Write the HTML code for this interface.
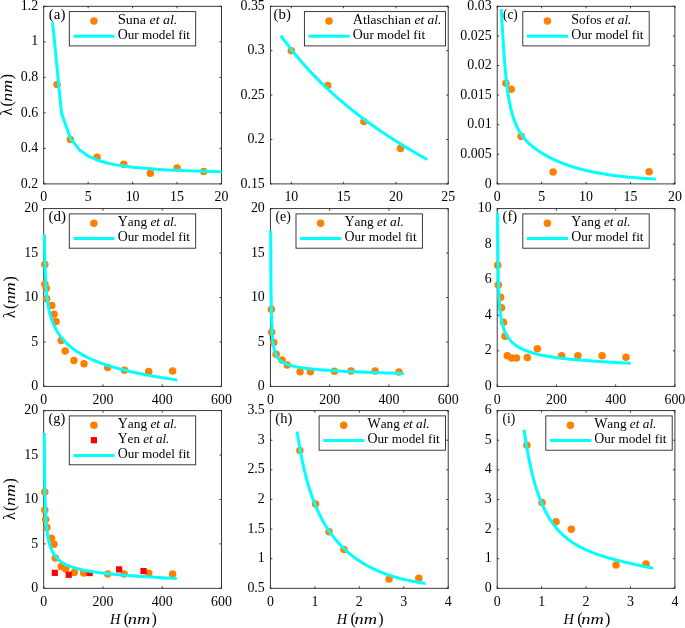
<!DOCTYPE html>
<html><head><meta charset="utf-8"><title>Figure</title>
<style>
html,body{margin:0;padding:0;background:#fff;}
svg{display:block;}
text{font-family:"Liberation Serif", serif;fill:#000;}
.tk{font-size:14.4px;}
.lg{font-size:13.0px;}
.cap{font-size:13.7px;}
.al{font-size:16px;}
.pl{font-size:15px;}
</style></head><body>
<svg width="685" height="628" viewBox="0 0 685 628">
<defs><filter id="soft" x="0" y="0" width="100%" height="100%" color-interpolation-filters="sRGB"><feGaussianBlur stdDeviation="0.4"/></filter></defs>
<g filter="url(#soft)">
<rect width="685" height="628" fill="#fff"/>
<rect x="43.7" y="6.3" width="177.80" height="177.60" fill="none" stroke="#262626" stroke-width="0.9"/>
<path d="M43.70,183.90v-2M43.70,6.30v2M88.15,183.90v-2M88.15,6.30v2M132.60,183.90v-2M132.60,6.30v2M177.05,183.90v-2M177.05,6.30v2M221.50,183.90v-2M221.50,6.30v2M43.70,183.90h2M221.50,183.90h-2M43.70,148.38h2M221.50,148.38h-2M43.70,112.86h2M221.50,112.86h-2M43.70,77.34h2M221.50,77.34h-2M43.70,41.82h2M221.50,41.82h-2M43.70,6.30h2M221.50,6.30h-2" stroke="#262626" stroke-width="0.9" fill="none"/>
<g>
<circle cx="57.04" cy="84.44" r="3.75" fill="#ff8000"/>
<circle cx="70.37" cy="139.50" r="3.75" fill="#ff8000"/>
<circle cx="97.04" cy="157.26" r="3.75" fill="#ff8000"/>
<circle cx="123.71" cy="164.36" r="3.75" fill="#ff8000"/>
<circle cx="150.38" cy="173.24" r="3.75" fill="#ff8000"/>
<circle cx="177.05" cy="167.92" r="3.75" fill="#ff8000"/>
<circle cx="203.72" cy="171.47" r="3.75" fill="#ff8000"/>
<path d="M52.59,22.28 L61.48,112.88 L70.37,138.27 L79.26,149.68 L88.15,156.02 L97.04,159.99 L105.93,162.69 L114.82,164.62 L123.71,166.07 L132.60,167.20 L141.49,168.09 L150.38,168.81 L159.27,169.41 L168.16,169.91 L177.05,170.33 L185.94,170.69 L194.83,171.01 L203.72,171.28 L212.61,171.52 L221.50,171.74" fill="none" stroke="#00ffff" stroke-width="3" stroke-linejoin="round"/>
</g>
<text transform="translate(38.10,187.55) scale(0.965,1)" text-anchor="end" class="tk">0.2</text>
<text transform="translate(38.10,152.03) scale(0.965,1)" text-anchor="end" class="tk">0.4</text>
<text transform="translate(38.10,116.51) scale(0.965,1)" text-anchor="end" class="tk">0.6</text>
<text transform="translate(38.10,80.99) scale(0.965,1)" text-anchor="end" class="tk">0.8</text>
<text transform="translate(38.10,45.47) scale(0.965,1)" text-anchor="end" class="tk">1</text>
<text transform="translate(38.10,9.95) scale(0.965,1)" text-anchor="end" class="tk">1.2</text>
<text transform="translate(43.70,201.20) scale(0.965,1)" text-anchor="middle" class="tk">0</text>
<text transform="translate(88.15,201.20) scale(0.965,1)" text-anchor="middle" class="tk">5</text>
<text transform="translate(132.60,201.20) scale(0.965,1)" text-anchor="middle" class="tk">10</text>
<text transform="translate(177.05,201.20) scale(0.965,1)" text-anchor="middle" class="tk">15</text>
<text transform="translate(221.50,201.20) scale(0.965,1)" text-anchor="middle" class="tk">20</text>
<text x="48.85" y="18.55" class="pl" textLength="16.55" lengthAdjust="spacingAndGlyphs">(a)</text>
<rect x="69.30" y="11.60" width="126.40" height="34.30" fill="#fff" stroke="#262626" stroke-width="0.9"/>
<circle cx="93.90" cy="20.90" r="3.75" fill="#ff8000"/>
<text x="117.70" y="24.00" class="lg" textLength="59.6" lengthAdjust="spacingAndGlyphs"><tspan class="cap">S</tspan>una <tspan font-style="italic">et al.</tspan></text>
<path d="M73.40,36.20h41.2" stroke="#00ffff" stroke-width="3"/>
<text x="117.70" y="39.00" class="lg" textLength="72.3" lengthAdjust="spacingAndGlyphs"><tspan class="cap">O</tspan>ur model fit</text>
<text transform="translate(11.6,115.73) rotate(-90)" style="font-size:16px">λ</text>
<text transform="translate(11.6,106.60) rotate(-90)" style="font-size:16px">(</text>
<text transform="translate(11.6,101.67) rotate(-90)" style="font-size:15.4px;font-style:italic" textLength="21.85" lengthAdjust="spacingAndGlyphs">nm</text>
<text transform="translate(11.6,79.15) rotate(-90)" style="font-size:16px">)</text>
<rect x="270.4" y="6.3" width="177.80" height="177.60" fill="none" stroke="#262626" stroke-width="0.9"/>
<path d="M291.32,183.90v-2M291.32,6.30v2M343.61,183.90v-2M343.61,6.30v2M395.91,183.90v-2M395.91,6.30v2M448.20,183.90v-2M448.20,6.30v2M270.40,183.90h2M448.20,183.90h-2M270.40,139.50h2M448.20,139.50h-2M270.40,95.10h2M448.20,95.10h-2M270.40,50.70h2M448.20,50.70h-2M270.40,6.30h2M448.20,6.30h-2" stroke="#262626" stroke-width="0.9" fill="none"/>
<g>
<circle cx="291.32" cy="50.70" r="3.75" fill="#ff8000"/>
<circle cx="327.61" cy="85.60" r="3.75" fill="#ff8000"/>
<circle cx="363.90" cy="121.56" r="3.75" fill="#ff8000"/>
<circle cx="400.51" cy="148.38" r="3.75" fill="#ff8000"/>
<path d="M280.86,35.60 L283.34,39.04 L285.82,42.39 L288.30,45.66 L290.79,48.84 L293.27,51.96 L295.75,55.00 L298.23,57.97 L300.71,60.88 L303.19,63.72 L305.68,66.50 L308.16,69.23 L310.64,71.90 L313.12,74.52 L315.60,77.09 L318.09,79.61 L320.57,82.08 L323.05,84.50 L325.53,86.89 L328.01,89.23 L330.49,91.53 L332.98,93.79 L335.46,96.01 L337.94,98.19 L340.42,100.34 L342.90,102.46 L345.38,104.54 L347.87,106.59 L350.35,108.61 L352.83,110.60 L355.31,112.55 L357.79,114.48 L360.27,116.39 L362.76,118.26 L365.24,120.11 L367.72,121.93 L370.20,123.73 L372.68,125.50 L375.17,127.26 L377.65,128.98 L380.13,130.69 L382.61,132.37 L385.09,134.03 L387.57,135.68 L390.06,137.30 L392.54,138.90 L395.02,140.48 L397.50,142.05 L399.98,143.59 L402.46,145.12 L404.95,146.63 L407.43,148.12 L409.91,149.60 L412.39,151.06 L414.87,152.50 L417.36,153.93 L419.84,155.35 L422.32,156.75 L424.80,158.13 L427.28,159.50" fill="none" stroke="#00ffff" stroke-width="3" stroke-linejoin="round"/>
</g>
<text transform="translate(264.80,187.55) scale(0.965,1)" text-anchor="end" class="tk">0.15</text>
<text transform="translate(264.80,143.15) scale(0.965,1)" text-anchor="end" class="tk">0.2</text>
<text transform="translate(264.80,98.75) scale(0.965,1)" text-anchor="end" class="tk">0.25</text>
<text transform="translate(264.80,54.35) scale(0.965,1)" text-anchor="end" class="tk">0.3</text>
<text transform="translate(264.80,9.95) scale(0.965,1)" text-anchor="end" class="tk">0.35</text>
<text transform="translate(291.32,201.20) scale(0.965,1)" text-anchor="middle" class="tk">10</text>
<text transform="translate(343.61,201.20) scale(0.965,1)" text-anchor="middle" class="tk">15</text>
<text transform="translate(395.91,201.20) scale(0.965,1)" text-anchor="middle" class="tk">20</text>
<text transform="translate(448.20,201.20) scale(0.965,1)" text-anchor="middle" class="tk">25</text>
<text x="273.56" y="18.55" class="pl" textLength="17.28" lengthAdjust="spacingAndGlyphs">(b)</text>
<rect x="304.40" y="11.60" width="141.10" height="34.30" fill="#fff" stroke="#262626" stroke-width="0.9"/>
<circle cx="329.00" cy="20.90" r="3.75" fill="#ff8000"/>
<text x="352.80" y="24.00" class="lg" textLength="88.6" lengthAdjust="spacingAndGlyphs"><tspan class="cap">A</tspan>tlaschian <tspan font-style="italic">et al.</tspan></text>
<path d="M308.50,36.20h41.2" stroke="#00ffff" stroke-width="3"/>
<text x="352.80" y="39.00" class="lg" textLength="72.3" lengthAdjust="spacingAndGlyphs"><tspan class="cap">O</tspan>ur model fit</text>
<rect x="497.2" y="6.3" width="177.70" height="177.60" fill="none" stroke="#262626" stroke-width="0.9"/>
<path d="M497.20,183.90v-2M497.20,6.30v2M541.62,183.90v-2M541.62,6.30v2M586.05,183.90v-2M586.05,6.30v2M630.47,183.90v-2M630.47,6.30v2M674.90,183.90v-2M674.90,6.30v2M497.20,183.90h2M674.90,183.90h-2M497.20,154.30h2M674.90,154.30h-2M497.20,124.70h2M674.90,124.70h-2M497.20,95.10h2M674.90,95.10h-2M497.20,65.50h2M674.90,65.50h-2M497.20,35.90h2M674.90,35.90h-2M497.20,6.30h2M674.90,6.30h-2" stroke="#262626" stroke-width="0.9" fill="none"/>
<g>
<circle cx="505.91" cy="83.26" r="3.75" fill="#ff8000"/>
<circle cx="511.24" cy="89.18" r="3.75" fill="#ff8000"/>
<circle cx="521.10" cy="136.18" r="3.75" fill="#ff8000"/>
<circle cx="553.09" cy="172.00" r="3.75" fill="#ff8000"/>
<circle cx="649.13" cy="171.82" r="3.75" fill="#ff8000"/>
<path d="M501.20,9.23 L501.26,10.06 L501.32,10.93 L501.39,11.85 L501.45,12.80 L501.52,13.80 L501.59,14.84 L501.65,15.91 L501.72,17.02 L501.79,18.16 L501.86,19.34 L501.94,20.55 L502.01,21.78 L502.08,23.05 L502.16,24.34 L502.24,25.66 L502.32,27.00 L502.39,28.36 L502.48,29.74 L502.56,31.14 L502.64,32.56 L502.73,34.00 L502.81,35.45 L502.90,36.91 L502.99,38.39 L503.08,39.87 L503.17,41.37 L503.26,42.87 L503.35,44.38 L503.45,45.89 L503.55,47.40 L503.65,48.92 L503.75,50.43 L503.85,51.95 L503.95,53.46 L504.05,54.96 L504.16,56.46 L504.27,57.95 L504.38,59.44 L504.49,60.91 L504.60,62.37 L504.72,63.81 L504.83,65.24 L504.95,66.66 L505.07,68.06 L505.20,69.45 L505.32,70.82 L505.45,72.18 L505.57,73.53 L505.70,74.86 L505.84,76.17 L505.97,77.47 L506.11,78.76 L506.24,80.03 L506.38,81.29 L506.53,82.53 L506.67,83.76 L506.82,84.97 L506.97,86.17 L507.12,87.36 L507.27,88.53 L507.43,89.69 L507.59,90.83 L507.75,91.96 L507.91,93.07 L508.08,94.17 L508.25,95.26 L508.42,96.33 L508.60,97.39 L508.77,98.43 L508.95,99.46 L509.13,100.47 L509.32,101.47 L509.51,102.46 L509.70,103.43 L509.89,104.39 L510.09,105.33 L510.29,106.26 L510.49,107.18 L510.70,108.09 L510.91,108.98 L511.12,109.86 L511.34,110.73 L511.56,111.59 L511.78,112.43 L512.01,113.27 L512.24,114.09 L512.47,114.90 L512.71,115.69 L512.95,116.48 L513.19,117.26 L513.44,118.02 L513.69,118.78 L513.95,119.52 L514.21,120.25 L514.47,120.98 L514.74,121.69 L515.01,122.39 L515.29,123.09 L515.57,123.77 L515.85,124.45 L516.14,125.11 L516.44,125.77 L516.74,126.42 L517.04,127.06 L517.35,127.69 L517.66,128.32 L517.98,128.93 L518.30,129.54 L518.63,130.14 L518.96,130.73 L519.30,131.31 L519.64,131.89 L519.99,132.46 L520.34,133.03 L520.70,133.58 L521.07,134.13 L521.44,134.68 L521.81,135.22 L522.20,135.75 L522.58,136.27 L522.98,136.79 L523.38,137.31 L523.78,137.82 L524.20,138.32 L524.62,138.82 L525.04,139.32 L525.47,139.81 L525.91,140.29 L526.36,140.77 L526.81,141.25 L527.27,141.73 L527.74,142.19 L528.21,142.66 L528.69,143.12 L529.18,143.58 L529.68,144.04 L530.18,144.49 L530.69,144.94 L531.21,145.39 L531.74,145.84 L532.28,146.28 L532.82,146.72 L533.37,147.16 L533.94,147.60 L534.51,148.03 L535.08,148.47 L535.67,148.90 L536.27,149.33 L536.88,149.77 L537.49,150.20 L538.12,150.63 L538.75,151.06 L539.40,151.49 L540.05,151.92 L540.72,152.34 L541.39,152.77 L542.08,153.20 L542.78,153.63 L543.48,154.05 L544.20,154.48 L544.93,154.90 L545.67,155.33 L546.42,155.75 L547.19,156.17 L547.96,156.59 L548.75,157.01 L549.55,157.43 L550.36,157.84 L551.19,158.26 L552.03,158.67 L552.88,159.08 L553.74,159.49 L554.62,159.90 L555.51,160.30 L556.42,160.71 L557.34,161.11 L558.27,161.51 L559.22,161.91 L560.18,162.30 L561.16,162.70 L562.15,163.09 L563.16,163.47 L564.18,163.86 L565.22,164.24 L566.28,164.62 L567.35,165.00 L568.44,165.38 L569.54,165.75 L570.67,166.12 L571.81,166.48 L572.96,166.84 L574.14,167.20 L575.33,167.56 L576.55,167.91 L577.78,168.26 L579.03,168.61 L580.30,168.95 L581.59,169.29 L582.90,169.62 L584.23,169.95 L585.58,170.28 L586.95,170.60 L588.35,170.92 L589.76,171.24 L591.20,171.55 L592.66,171.85 L594.14,172.15 L595.64,172.45 L597.17,172.75 L598.72,173.03 L600.30,173.32 L601.90,173.60 L603.52,173.87 L605.17,174.14 L606.85,174.41 L608.55,174.67 L610.28,174.92 L612.03,175.17 L613.82,175.41 L615.63,175.65 L617.46,175.89 L619.33,176.12 L621.23,176.34 L623.15,176.56 L625.11,176.77 L627.09,176.97 L629.11,177.17 L631.16,177.37 L633.23,177.55 L635.35,177.74 L637.49,177.91 L639.67,178.08 L641.88,178.25 L644.12,178.40 L646.40,178.55 L648.72,178.70 L651.07,178.83 L653.46,178.97 L655.89,179.09" fill="none" stroke="#00ffff" stroke-width="3" stroke-linejoin="round"/>
</g>
<text transform="translate(491.60,187.55) scale(0.965,1)" text-anchor="end" class="tk">0</text>
<text transform="translate(491.60,157.95) scale(0.965,1)" text-anchor="end" class="tk">0.005</text>
<text transform="translate(491.60,128.35) scale(0.965,1)" text-anchor="end" class="tk">0.01</text>
<text transform="translate(491.60,98.75) scale(0.965,1)" text-anchor="end" class="tk">0.015</text>
<text transform="translate(491.60,69.15) scale(0.965,1)" text-anchor="end" class="tk">0.02</text>
<text transform="translate(491.60,39.55) scale(0.965,1)" text-anchor="end" class="tk">0.025</text>
<text transform="translate(491.60,9.95) scale(0.965,1)" text-anchor="end" class="tk">0.03</text>
<text transform="translate(497.20,201.20) scale(0.965,1)" text-anchor="middle" class="tk">0</text>
<text transform="translate(541.62,201.20) scale(0.965,1)" text-anchor="middle" class="tk">5</text>
<text transform="translate(586.05,201.20) scale(0.965,1)" text-anchor="middle" class="tk">10</text>
<text transform="translate(630.47,201.20) scale(0.965,1)" text-anchor="middle" class="tk">15</text>
<text transform="translate(674.90,201.20) scale(0.965,1)" text-anchor="middle" class="tk">20</text>
<text x="503.07" y="18.55" class="pl" textLength="14.65" lengthAdjust="spacingAndGlyphs">(c)</text>
<rect x="522.80" y="11.60" width="126.40" height="34.30" fill="#fff" stroke="#262626" stroke-width="0.9"/>
<circle cx="547.40" cy="20.90" r="3.75" fill="#ff8000"/>
<text x="571.20" y="24.00" class="lg" textLength="60.2" lengthAdjust="spacingAndGlyphs"><tspan class="cap">S</tspan>ofos <tspan font-style="italic">et al.</tspan></text>
<path d="M526.90,36.20h41.2" stroke="#00ffff" stroke-width="3"/>
<text x="571.20" y="39.00" class="lg" textLength="72.3" lengthAdjust="spacingAndGlyphs"><tspan class="cap">O</tspan>ur model fit</text>
<rect x="43.7" y="208.6" width="177.80" height="177.80" fill="none" stroke="#262626" stroke-width="0.9"/>
<path d="M43.70,386.40v-2M43.70,208.60v2M102.97,386.40v-2M102.97,208.60v2M162.23,386.40v-2M162.23,208.60v2M221.50,386.40v-2M221.50,208.60v2M43.70,386.40h2M221.50,386.40h-2M43.70,341.95h2M221.50,341.95h-2M43.70,297.50h2M221.50,297.50h-2M43.70,253.05h2M221.50,253.05h-2M43.70,208.60h2M221.50,208.60h-2" stroke="#262626" stroke-width="0.9" fill="none"/>
<g>
<circle cx="44.89" cy="264.61" r="3.75" fill="#ff8000"/>
<circle cx="44.89" cy="284.16" r="3.75" fill="#ff8000"/>
<circle cx="46.25" cy="288.61" r="3.75" fill="#ff8000"/>
<circle cx="46.69" cy="298.66" r="3.75" fill="#ff8000"/>
<circle cx="51.82" cy="305.41" r="3.75" fill="#ff8000"/>
<circle cx="54.07" cy="314.30" r="3.75" fill="#ff8000"/>
<circle cx="56.09" cy="321.41" r="3.75" fill="#ff8000"/>
<circle cx="61.18" cy="340.44" r="3.75" fill="#ff8000"/>
<circle cx="65.21" cy="351.11" r="3.75" fill="#ff8000"/>
<circle cx="73.93" cy="360.53" r="3.75" fill="#ff8000"/>
<circle cx="84.00" cy="363.73" r="3.75" fill="#ff8000"/>
<circle cx="107.71" cy="367.55" r="3.75" fill="#ff8000"/>
<circle cx="124.45" cy="370.22" r="3.75" fill="#ff8000"/>
<circle cx="148.72" cy="371.55" r="3.75" fill="#ff8000"/>
<circle cx="172.61" cy="371.11" r="3.75" fill="#ff8000"/>
<path d="M44.44,234.60 L44.46,235.98 L44.47,237.34 L44.49,238.68 L44.51,240.01 L44.53,241.32 L44.54,242.61 L44.56,243.88 L44.58,245.14 L44.60,246.39 L44.62,247.61 L44.64,248.82 L44.66,250.02 L44.68,251.20 L44.70,252.36 L44.73,253.51 L44.75,254.65 L44.77,255.77 L44.80,256.87 L44.82,257.96 L44.84,259.04 L44.87,260.10 L44.89,261.15 L44.92,262.18 L44.95,263.21 L44.98,264.21 L45.00,265.21 L45.03,266.19 L45.06,267.16 L45.09,268.12 L45.12,269.06 L45.15,269.99 L45.18,270.91 L45.22,271.82 L45.25,272.71 L45.28,273.60 L45.32,274.47 L45.36,275.33 L45.39,276.18 L45.43,277.02 L45.47,277.85 L45.51,278.67 L45.55,279.48 L45.59,280.27 L45.63,281.06 L45.67,281.84 L45.71,282.61 L45.76,283.37 L45.80,284.12 L45.85,284.86 L45.90,285.59 L45.94,286.31 L45.99,287.03 L46.04,287.73 L46.10,288.43 L46.15,289.12 L46.20,289.81 L46.26,290.48 L46.31,291.15 L46.37,291.81 L46.43,292.46 L46.49,293.10 L46.55,293.74 L46.61,294.38 L46.68,295.00 L46.74,295.62 L46.81,296.24 L46.88,296.84 L46.95,297.45 L47.02,298.04 L47.09,298.63 L47.17,299.22 L47.24,299.80 L47.32,300.38 L47.40,300.95 L47.48,301.52 L47.56,302.08 L47.65,302.64 L47.73,303.19 L47.82,303.74 L47.91,304.29 L48.01,304.84 L48.10,305.38 L48.20,305.91 L48.30,306.45 L48.40,306.98 L48.50,307.51 L48.61,308.04 L48.71,308.57 L48.82,309.09 L48.94,309.61 L49.05,310.13 L49.17,310.65 L49.29,311.17 L49.41,311.68 L49.54,312.20 L49.67,312.71 L49.80,313.23 L49.93,313.74 L50.07,314.25 L50.21,314.77 L50.35,315.28 L50.50,315.79 L50.65,316.30 L50.80,316.80 L50.95,317.31 L51.11,317.82 L51.28,318.32 L51.44,318.83 L51.61,319.33 L51.79,319.84 L51.96,320.34 L52.15,320.84 L52.33,321.35 L52.52,321.85 L52.72,322.35 L52.91,322.85 L53.12,323.35 L53.32,323.85 L53.53,324.34 L53.75,324.84 L53.97,325.34 L54.20,325.83 L54.43,326.33 L54.66,326.82 L54.90,327.32 L55.15,327.81 L55.40,328.30 L55.66,328.80 L55.92,329.29 L56.19,329.78 L56.46,330.27 L56.74,330.76 L57.03,331.25 L57.32,331.74 L57.62,332.23 L57.93,332.72 L58.24,333.20 L58.56,333.69 L58.89,334.18 L59.22,334.66 L59.56,335.15 L59.91,335.63 L60.27,336.12 L60.63,336.60 L61.00,337.09 L61.38,337.57 L61.77,338.05 L62.17,338.53 L62.57,339.02 L62.99,339.50 L63.41,339.98 L63.84,340.46 L64.29,340.94 L64.74,341.42 L65.20,341.90 L65.67,342.38 L66.16,342.86 L66.65,343.34 L67.15,343.81 L67.67,344.29 L68.20,344.77 L68.73,345.25 L69.28,345.72 L69.85,346.20 L70.42,346.68 L71.01,347.15 L71.61,347.63 L72.22,348.11 L72.85,348.58 L73.49,349.05 L74.14,349.53 L74.81,350.00 L75.49,350.48 L76.19,350.95 L76.91,351.42 L77.64,351.89 L78.38,352.36 L79.14,352.84 L79.92,353.31 L80.72,353.78 L81.53,354.24 L82.36,354.71 L83.21,355.18 L84.08,355.65 L84.97,356.12 L85.87,356.58 L86.80,357.05 L87.74,357.51 L88.71,357.98 L89.70,358.44 L90.71,358.90 L91.74,359.36 L92.80,359.83 L93.88,360.29 L94.98,360.75 L96.11,361.20 L97.26,361.66 L98.44,362.12 L99.64,362.58 L100.87,363.03 L102.12,363.48 L103.41,363.94 L104.72,364.39 L106.06,364.84 L107.43,365.29 L108.83,365.74 L110.26,366.19 L111.72,366.64 L113.21,367.09 L114.74,367.53 L116.30,367.98 L117.90,368.42 L119.53,368.86 L121.19,369.30 L122.89,369.74 L124.63,370.18 L126.41,370.62 L128.23,371.06 L130.09,371.49 L131.98,371.93 L133.92,372.36 L135.91,372.79 L137.93,373.22 L140.00,373.65 L142.12,374.08 L144.28,374.51 L146.49,374.93 L148.75,375.36 L151.05,375.78 L153.41,376.20 L155.82,376.62 L158.28,377.04 L160.80,377.45 L163.37,377.87 L166.00,378.28 L168.69,378.70 L171.44,379.11 L174.24,379.52 L177.11,379.93" fill="none" stroke="#00ffff" stroke-width="3" stroke-linejoin="round"/>
</g>
<text transform="translate(38.10,390.05) scale(0.965,1)" text-anchor="end" class="tk">0</text>
<text transform="translate(38.10,345.60) scale(0.965,1)" text-anchor="end" class="tk">5</text>
<text transform="translate(38.10,301.15) scale(0.965,1)" text-anchor="end" class="tk">10</text>
<text transform="translate(38.10,256.70) scale(0.965,1)" text-anchor="end" class="tk">15</text>
<text transform="translate(38.10,212.25) scale(0.965,1)" text-anchor="end" class="tk">20</text>
<text transform="translate(43.70,403.70) scale(0.965,1)" text-anchor="middle" class="tk">0</text>
<text transform="translate(102.97,403.70) scale(0.965,1)" text-anchor="middle" class="tk">200</text>
<text transform="translate(162.23,403.70) scale(0.965,1)" text-anchor="middle" class="tk">400</text>
<text transform="translate(221.50,403.70) scale(0.965,1)" text-anchor="middle" class="tk">600</text>
<text x="48.55" y="220.85" class="pl" textLength="17.49" lengthAdjust="spacingAndGlyphs">(d)</text>
<rect x="69.30" y="213.90" width="126.40" height="34.30" fill="#fff" stroke="#262626" stroke-width="0.9"/>
<circle cx="93.90" cy="223.20" r="3.75" fill="#ff8000"/>
<text x="117.70" y="226.30" class="lg" textLength="59.4" lengthAdjust="spacingAndGlyphs"><tspan class="cap">Y</tspan>ang <tspan font-style="italic">et al.</tspan></text>
<path d="M73.40,238.50h41.2" stroke="#00ffff" stroke-width="3"/>
<text x="117.70" y="241.30" class="lg" textLength="72.3" lengthAdjust="spacingAndGlyphs"><tspan class="cap">O</tspan>ur model fit</text>
<text transform="translate(15.0,318.13) rotate(-90)" style="font-size:16px">λ</text>
<text transform="translate(15.0,309.00) rotate(-90)" style="font-size:16px">(</text>
<text transform="translate(15.0,304.07) rotate(-90)" style="font-size:15.4px;font-style:italic" textLength="21.85" lengthAdjust="spacingAndGlyphs">nm</text>
<text transform="translate(15.0,281.55) rotate(-90)" style="font-size:16px">)</text>
<rect x="270.4" y="208.6" width="177.80" height="177.80" fill="none" stroke="#262626" stroke-width="0.9"/>
<path d="M270.40,386.40v-2M270.40,208.60v2M329.67,386.40v-2M329.67,208.60v2M388.93,386.40v-2M388.93,208.60v2M448.20,386.40v-2M448.20,208.60v2M270.40,386.40h2M448.20,386.40h-2M270.40,341.95h2M448.20,341.95h-2M270.40,297.50h2M448.20,297.50h-2M270.40,253.05h2M448.20,253.05h-2M270.40,208.60h2M448.20,208.60h-2" stroke="#262626" stroke-width="0.9" fill="none"/>
<g>
<circle cx="271.41" cy="309.15" r="3.75" fill="#ff8000"/>
<circle cx="271.70" cy="332.17" r="3.75" fill="#ff8000"/>
<circle cx="273.75" cy="342.57" r="3.75" fill="#ff8000"/>
<circle cx="276.15" cy="354.13" r="3.75" fill="#ff8000"/>
<circle cx="282.05" cy="360.09" r="3.75" fill="#ff8000"/>
<circle cx="287.29" cy="364.89" r="3.75" fill="#ff8000"/>
<circle cx="300.03" cy="371.64" r="3.75" fill="#ff8000"/>
<circle cx="310.40" cy="371.64" r="3.75" fill="#ff8000"/>
<circle cx="334.41" cy="371.20" r="3.75" fill="#ff8000"/>
<circle cx="351.00" cy="371.02" r="3.75" fill="#ff8000"/>
<circle cx="375.12" cy="371.02" r="3.75" fill="#ff8000"/>
<circle cx="399.01" cy="371.91" r="3.75" fill="#ff8000"/>
<path d="M270.70,230.89 L270.70,233.21 L270.71,235.50 L270.72,237.76 L270.73,239.98 L270.74,242.18 L270.75,244.35 L270.75,246.49 L270.76,248.60 L270.77,250.69 L270.78,252.74 L270.79,254.77 L270.80,256.76 L270.81,258.73 L270.82,260.68 L270.83,262.59 L270.85,264.48 L270.86,266.34 L270.87,268.17 L270.88,269.98 L270.89,271.76 L270.91,273.52 L270.92,275.25 L270.93,276.95 L270.95,278.63 L270.96,280.29 L270.98,281.91 L270.99,283.52 L271.01,285.10 L271.02,286.65 L271.04,288.19 L271.05,289.69 L271.07,291.18 L271.09,292.64 L271.11,294.08 L271.13,295.49 L271.14,296.88 L271.16,298.25 L271.18,299.60 L271.20,300.93 L271.22,302.23 L271.25,303.51 L271.27,304.78 L271.29,306.02 L271.31,307.24 L271.34,308.43 L271.36,309.61 L271.39,310.77 L271.41,311.91 L271.44,313.03 L271.46,314.13 L271.49,315.21 L271.52,316.27 L271.55,317.31 L271.58,318.34 L271.61,319.34 L271.64,320.33 L271.67,321.30 L271.71,322.25 L271.74,323.18 L271.77,324.10 L271.81,325.00 L271.85,325.88 L271.88,326.75 L271.92,327.60 L271.96,328.43 L272.00,329.25 L272.04,330.05 L272.09,330.84 L272.13,331.61 L272.17,332.37 L272.22,333.11 L272.27,333.84 L272.32,334.56 L272.36,335.25 L272.42,335.94 L272.47,336.61 L272.52,337.27 L272.58,337.92 L272.63,338.55 L272.69,339.17 L272.75,339.78 L272.81,340.37 L272.87,340.95 L272.94,341.53 L273.00,342.09 L273.07,342.63 L273.14,343.17 L273.21,343.70 L273.28,344.21 L273.36,344.72 L273.43,345.21 L273.51,345.70 L273.59,346.17 L273.68,346.64 L273.76,347.09 L273.85,347.54 L273.94,347.98 L274.03,348.41 L274.12,348.83 L274.22,349.24 L274.32,349.65 L274.42,350.04 L274.52,350.43 L274.63,350.82 L274.74,351.19 L274.85,351.56 L274.97,351.92 L275.09,352.28 L275.21,352.63 L275.33,352.97 L275.46,353.31 L275.59,353.64 L275.72,353.96 L275.86,354.29 L276.00,354.60 L276.15,354.91 L276.30,355.22 L276.45,355.52 L276.61,355.82 L276.77,356.12 L276.93,356.41 L277.10,356.69 L277.28,356.97 L277.45,357.25 L277.64,357.52 L277.82,357.79 L278.02,358.05 L278.21,358.31 L278.42,358.57 L278.62,358.82 L278.84,359.06 L279.05,359.31 L279.28,359.55 L279.51,359.78 L279.74,360.02 L279.99,360.24 L280.23,360.47 L280.49,360.69 L280.75,360.91 L281.02,361.12 L281.29,361.34 L281.58,361.54 L281.87,361.75 L282.16,361.95 L282.47,362.15 L282.78,362.34 L283.10,362.53 L283.43,362.72 L283.77,362.91 L284.11,363.09 L284.47,363.27 L284.83,363.45 L285.20,363.62 L285.59,363.80 L285.98,363.97 L286.38,364.13 L286.80,364.30 L287.22,364.46 L287.66,364.62 L288.11,364.77 L288.56,364.93 L289.03,365.08 L289.52,365.23 L290.01,365.38 L290.52,365.52 L291.04,365.67 L291.58,365.81 L292.12,365.95 L292.69,366.08 L293.26,366.22 L293.86,366.35 L294.46,366.49 L295.09,366.62 L295.72,366.75 L296.38,366.87 L297.05,367.00 L297.74,367.12 L298.45,367.24 L299.18,367.37 L299.92,367.49 L300.69,367.60 L301.47,367.72 L302.28,367.84 L303.10,367.95 L303.95,368.07 L304.82,368.18 L305.71,368.29 L306.62,368.40 L307.56,368.51 L308.52,368.62 L309.51,368.73 L310.52,368.84 L311.56,368.95 L312.63,369.05 L313.72,369.16 L314.84,369.26 L315.99,369.37 L317.17,369.47 L318.38,369.58 L319.63,369.68 L320.90,369.78 L322.21,369.89 L323.55,369.99 L324.93,370.09 L326.34,370.19 L327.79,370.29 L329.27,370.39 L330.80,370.49 L332.36,370.59 L333.97,370.69 L335.61,370.79 L337.30,370.89 L339.03,370.99 L340.81,371.09 L342.63,371.18 L344.50,371.28 L346.42,371.38 L348.39,371.48 L350.41,371.57 L352.48,371.67 L354.61,371.77 L356.79,371.87 L359.02,371.96 L361.32,372.06 L363.67,372.16 L366.09,372.25 L368.57,372.35 L371.11,372.44 L373.72,372.54 L376.39,372.64 L379.13,372.73 L381.95,372.83 L384.84,372.93 L387.80,373.02 L390.84,373.12 L393.96,373.22 L397.16,373.31 L400.44,373.41 L403.81,373.51" fill="none" stroke="#00ffff" stroke-width="3" stroke-linejoin="round"/>
</g>
<text transform="translate(264.80,390.05) scale(0.965,1)" text-anchor="end" class="tk">0</text>
<text transform="translate(264.80,345.60) scale(0.965,1)" text-anchor="end" class="tk">5</text>
<text transform="translate(264.80,301.15) scale(0.965,1)" text-anchor="end" class="tk">10</text>
<text transform="translate(264.80,256.70) scale(0.965,1)" text-anchor="end" class="tk">15</text>
<text transform="translate(264.80,212.25) scale(0.965,1)" text-anchor="end" class="tk">20</text>
<text transform="translate(270.40,403.70) scale(0.965,1)" text-anchor="middle" class="tk">0</text>
<text transform="translate(329.67,403.70) scale(0.965,1)" text-anchor="middle" class="tk">200</text>
<text transform="translate(388.93,403.70) scale(0.965,1)" text-anchor="middle" class="tk">400</text>
<text transform="translate(448.20,403.70) scale(0.965,1)" text-anchor="middle" class="tk">600</text>
<text x="275.40" y="220.85" class="pl" textLength="15.37" lengthAdjust="spacingAndGlyphs">(e)</text>
<rect x="296.00" y="213.90" width="126.40" height="34.30" fill="#fff" stroke="#262626" stroke-width="0.9"/>
<circle cx="320.60" cy="223.20" r="3.75" fill="#ff8000"/>
<text x="344.40" y="226.30" class="lg" textLength="59.4" lengthAdjust="spacingAndGlyphs"><tspan class="cap">Y</tspan>ang <tspan font-style="italic">et al.</tspan></text>
<path d="M300.10,238.50h41.2" stroke="#00ffff" stroke-width="3"/>
<text x="344.40" y="241.30" class="lg" textLength="72.3" lengthAdjust="spacingAndGlyphs"><tspan class="cap">O</tspan>ur model fit</text>
<rect x="497.2" y="208.6" width="177.70" height="177.80" fill="none" stroke="#262626" stroke-width="0.9"/>
<path d="M497.20,386.40v-2M497.20,208.60v2M556.43,386.40v-2M556.43,208.60v2M615.67,386.40v-2M615.67,208.60v2M674.90,386.40v-2M674.90,208.60v2M497.20,386.40h2M674.90,386.40h-2M497.20,350.84h2M674.90,350.84h-2M497.20,315.28h2M674.90,315.28h-2M497.20,279.72h2M674.90,279.72h-2M497.20,244.16h2M674.90,244.16h-2M497.20,208.60h2M674.90,208.60h-2" stroke="#262626" stroke-width="0.9" fill="none"/>
<g>
<circle cx="497.73" cy="265.32" r="3.75" fill="#ff8000"/>
<circle cx="498.30" cy="284.88" r="3.75" fill="#ff8000"/>
<circle cx="500.61" cy="297.32" r="3.75" fill="#ff8000"/>
<circle cx="501.52" cy="307.81" r="3.75" fill="#ff8000"/>
<circle cx="503.48" cy="322.21" r="3.75" fill="#ff8000"/>
<circle cx="504.99" cy="336.26" r="3.75" fill="#ff8000"/>
<circle cx="507.27" cy="355.64" r="3.75" fill="#ff8000"/>
<circle cx="511.68" cy="357.95" r="3.75" fill="#ff8000"/>
<circle cx="516.39" cy="357.95" r="3.75" fill="#ff8000"/>
<circle cx="527.29" cy="357.42" r="3.75" fill="#ff8000"/>
<circle cx="537.39" cy="348.71" r="3.75" fill="#ff8000"/>
<circle cx="561.62" cy="355.64" r="3.75" fill="#ff8000"/>
<circle cx="577.91" cy="355.82" r="3.75" fill="#ff8000"/>
<circle cx="602.10" cy="355.82" r="3.75" fill="#ff8000"/>
<circle cx="626.00" cy="357.24" r="3.75" fill="#ff8000"/>
<path d="M497.59,212.84 L497.59,214.48 L497.60,216.12 L497.61,217.75 L497.62,219.37 L497.64,220.98 L497.65,222.59 L497.66,224.19 L497.67,225.79 L497.68,227.37 L497.69,228.95 L497.70,230.52 L497.72,232.08 L497.73,233.63 L497.74,235.18 L497.76,236.71 L497.77,238.24 L497.78,239.76 L497.80,241.26 L497.81,242.76 L497.83,244.25 L497.84,245.73 L497.86,247.19 L497.88,248.65 L497.89,250.10 L497.91,251.53 L497.93,252.96 L497.95,254.37 L497.96,255.77 L497.98,257.16 L498.00,258.54 L498.02,259.91 L498.04,261.26 L498.06,262.60 L498.08,263.93 L498.11,265.24 L498.13,266.54 L498.15,267.83 L498.18,269.11 L498.20,270.37 L498.22,271.62 L498.25,272.85 L498.28,274.07 L498.30,275.27 L498.33,276.46 L498.36,277.63 L498.39,278.79 L498.42,279.94 L498.45,281.06 L498.48,282.17 L498.51,283.27 L498.54,284.35 L498.57,285.41 L498.61,286.46 L498.64,287.49 L498.68,288.51 L498.72,289.51 L498.75,290.50 L498.79,291.47 L498.83,292.42 L498.87,293.36 L498.91,294.28 L498.96,295.20 L499.00,296.09 L499.04,296.97 L499.09,297.84 L499.14,298.69 L499.18,299.53 L499.23,300.36 L499.28,301.17 L499.34,301.97 L499.39,302.75 L499.44,303.53 L499.50,304.29 L499.56,305.04 L499.61,305.77 L499.67,306.50 L499.73,307.21 L499.80,307.91 L499.86,308.60 L499.93,309.28 L500.00,309.95 L500.06,310.61 L500.14,311.26 L500.21,311.90 L500.28,312.54 L500.36,313.16 L500.44,313.77 L500.52,314.37 L500.60,314.97 L500.68,315.56 L500.77,316.14 L500.86,316.71 L500.95,317.27 L501.04,317.83 L501.14,318.38 L501.23,318.92 L501.33,319.46 L501.44,319.99 L501.54,320.51 L501.65,321.03 L501.76,321.55 L501.87,322.06 L501.99,322.56 L502.11,323.06 L502.23,323.55 L502.35,324.04 L502.48,324.53 L502.61,325.01 L502.75,325.49 L502.88,325.96 L503.02,326.44 L503.17,326.91 L503.32,327.37 L503.47,327.83 L503.62,328.29 L503.78,328.75 L503.95,329.20 L504.11,329.65 L504.28,330.10 L504.46,330.55 L504.64,330.99 L504.82,331.43 L505.01,331.86 L505.21,332.29 L505.40,332.72 L505.61,333.15 L505.82,333.57 L506.03,333.99 L506.25,334.41 L506.47,334.82 L506.70,335.23 L506.94,335.64 L507.18,336.04 L507.43,336.44 L507.68,336.84 L507.94,337.24 L508.21,337.63 L508.48,338.02 L508.76,338.40 L509.04,338.79 L509.34,339.17 L509.64,339.55 L509.95,339.92 L510.26,340.29 L510.59,340.66 L510.92,341.02 L511.26,341.39 L511.60,341.75 L511.96,342.10 L512.33,342.46 L512.70,342.81 L513.09,343.15 L513.48,343.50 L513.88,343.84 L514.30,344.18 L514.72,344.51 L515.15,344.85 L515.60,345.18 L516.05,345.50 L516.52,345.83 L517.00,346.15 L517.49,346.47 L517.99,346.78 L518.51,347.09 L519.04,347.40 L519.58,347.71 L520.13,348.01 L520.70,348.31 L521.28,348.61 L521.88,348.91 L522.49,349.20 L523.12,349.49 L523.76,349.78 L524.42,350.06 L525.09,350.34 L525.78,350.62 L526.49,350.89 L527.22,351.16 L527.96,351.43 L528.72,351.70 L529.50,351.96 L530.30,352.22 L531.12,352.48 L531.96,352.74 L532.83,352.99 L533.71,353.24 L534.61,353.49 L535.54,353.73 L536.49,353.97 L537.46,354.21 L538.46,354.45 L539.48,354.68 L540.53,354.91 L541.60,355.14 L542.70,355.36 L543.83,355.58 L544.99,355.80 L546.17,356.02 L547.38,356.23 L548.63,356.44 L549.90,356.65 L551.21,356.85 L552.55,357.06 L553.92,357.26 L555.32,357.45 L556.76,357.65 L558.24,357.84 L559.75,358.03 L561.30,358.22 L562.89,358.41 L564.52,358.59 L566.18,358.78 L567.89,358.96 L569.64,359.14 L571.44,359.32 L573.28,359.49 L575.16,359.67 L577.09,359.84 L579.07,360.01 L581.10,360.18 L583.18,360.35 L585.31,360.52 L587.49,360.69 L589.73,360.85 L592.02,361.02 L594.37,361.18 L596.78,361.35 L599.25,361.51 L601.77,361.67 L604.37,361.83 L607.02,362.00 L609.74,362.16 L612.53,362.32 L615.39,362.48 L618.32,362.64 L621.32,362.80 L624.39,362.96 L627.54,363.12 L630.77,363.28" fill="none" stroke="#00ffff" stroke-width="3" stroke-linejoin="round"/>
</g>
<text transform="translate(491.60,390.05) scale(0.965,1)" text-anchor="end" class="tk">0</text>
<text transform="translate(491.60,354.49) scale(0.965,1)" text-anchor="end" class="tk">2</text>
<text transform="translate(491.60,318.93) scale(0.965,1)" text-anchor="end" class="tk">4</text>
<text transform="translate(491.60,283.37) scale(0.965,1)" text-anchor="end" class="tk">6</text>
<text transform="translate(491.60,247.81) scale(0.965,1)" text-anchor="end" class="tk">8</text>
<text transform="translate(491.60,212.25) scale(0.965,1)" text-anchor="end" class="tk">10</text>
<text transform="translate(497.20,403.70) scale(0.965,1)" text-anchor="middle" class="tk">0</text>
<text transform="translate(556.43,403.70) scale(0.965,1)" text-anchor="middle" class="tk">200</text>
<text transform="translate(615.67,403.70) scale(0.965,1)" text-anchor="middle" class="tk">400</text>
<text transform="translate(674.90,403.70) scale(0.965,1)" text-anchor="middle" class="tk">600</text>
<text x="502.57" y="220.85" class="pl" textLength="14.60" lengthAdjust="spacingAndGlyphs">(f)</text>
<rect x="522.80" y="213.90" width="126.40" height="34.30" fill="#fff" stroke="#262626" stroke-width="0.9"/>
<circle cx="547.40" cy="223.20" r="3.75" fill="#ff8000"/>
<text x="571.20" y="226.30" class="lg" textLength="59.4" lengthAdjust="spacingAndGlyphs"><tspan class="cap">Y</tspan>ang <tspan font-style="italic">et al.</tspan></text>
<path d="M526.90,238.50h41.2" stroke="#00ffff" stroke-width="3"/>
<text x="571.20" y="241.30" class="lg" textLength="72.3" lengthAdjust="spacingAndGlyphs"><tspan class="cap">O</tspan>ur model fit</text>
<rect x="43.7" y="410.6" width="177.80" height="177.70" fill="none" stroke="#262626" stroke-width="0.9"/>
<path d="M43.70,588.30v-2M43.70,410.60v2M102.97,588.30v-2M102.97,410.60v2M162.23,588.30v-2M162.23,410.60v2M221.50,588.30v-2M221.50,410.60v2M43.70,588.30h2M221.50,588.30h-2M43.70,543.88h2M221.50,543.88h-2M43.70,499.45h2M221.50,499.45h-2M43.70,455.02h2M221.50,455.02h-2M43.70,410.60h2M221.50,410.60h-2" stroke="#262626" stroke-width="0.9" fill="none"/>
<g>
<circle cx="44.80" cy="492.08" r="3.75" fill="#ff8000"/>
<circle cx="44.80" cy="509.93" r="3.75" fill="#ff8000"/>
<circle cx="45.69" cy="519.62" r="3.75" fill="#ff8000"/>
<circle cx="46.90" cy="527.62" r="3.75" fill="#ff8000"/>
<circle cx="51.40" cy="538.28" r="3.75" fill="#ff8000"/>
<circle cx="54.04" cy="544.14" r="3.75" fill="#ff8000"/>
<circle cx="55.26" cy="557.91" r="3.75" fill="#ff8000"/>
<circle cx="61.18" cy="566.44" r="3.75" fill="#ff8000"/>
<circle cx="65.63" cy="569.11" r="3.75" fill="#ff8000"/>
<circle cx="74.22" cy="572.57" r="3.75" fill="#ff8000"/>
<circle cx="83.71" cy="573.02" r="3.75" fill="#ff8000"/>
<circle cx="107.71" cy="573.91" r="3.75" fill="#ff8000"/>
<circle cx="124.21" cy="573.91" r="3.75" fill="#ff8000"/>
<circle cx="148.72" cy="573.28" r="3.75" fill="#ff8000"/>
<circle cx="172.61" cy="573.91" r="3.75" fill="#ff8000"/>
<rect x="51.71" y="569.74" width="6.2" height="6.2" fill="#ff0000"/>
<rect x="65.64" y="571.69" width="6.2" height="6.2" fill="#ff0000"/>
<rect x="86.53" y="569.92" width="6.2" height="6.2" fill="#ff0000"/>
<rect x="116.05" y="566.27" width="6.2" height="6.2" fill="#ff0000"/>
<rect x="140.46" y="567.96" width="6.2" height="6.2" fill="#ff0000"/>
<path d="M44.29,432.93 L44.31,435.27 L44.32,437.56 L44.33,439.82 L44.35,442.03 L44.36,444.22 L44.38,446.36 L44.39,448.47 L44.41,450.54 L44.43,452.58 L44.44,454.58 L44.46,456.55 L44.48,458.48 L44.50,460.38 L44.51,462.25 L44.53,464.08 L44.55,465.88 L44.57,467.65 L44.59,469.39 L44.61,471.10 L44.63,472.77 L44.65,474.42 L44.68,476.04 L44.70,477.62 L44.72,479.18 L44.74,480.71 L44.77,482.21 L44.79,483.68 L44.82,485.13 L44.84,486.55 L44.87,487.94 L44.90,489.30 L44.92,490.64 L44.95,491.96 L44.98,493.25 L45.01,494.51 L45.04,495.76 L45.07,496.98 L45.10,498.17 L45.13,499.34 L45.17,500.49 L45.20,501.62 L45.23,502.73 L45.27,503.82 L45.31,504.88 L45.34,505.93 L45.38,506.95 L45.42,507.96 L45.46,508.95 L45.50,509.92 L45.54,510.87 L45.58,511.80 L45.62,512.72 L45.67,513.62 L45.71,514.50 L45.76,515.37 L45.81,516.22 L45.86,517.06 L45.91,517.88 L45.96,518.69 L46.01,519.48 L46.06,520.26 L46.11,521.03 L46.17,521.79 L46.23,522.53 L46.28,523.26 L46.34,523.98 L46.40,524.69 L46.47,525.39 L46.53,526.08 L46.59,526.76 L46.66,527.43 L46.73,528.09 L46.80,528.75 L46.87,529.39 L46.94,530.03 L47.02,530.66 L47.09,531.28 L47.17,531.90 L47.25,532.51 L47.33,533.11 L47.41,533.70 L47.50,534.28 L47.59,534.86 L47.67,535.43 L47.77,536.00 L47.86,536.56 L47.95,537.11 L48.05,537.65 L48.15,538.19 L48.25,538.72 L48.36,539.25 L48.46,539.77 L48.57,540.28 L48.68,540.78 L48.80,541.29 L48.92,541.78 L49.04,542.27 L49.16,542.75 L49.28,543.23 L49.41,543.70 L49.54,544.17 L49.68,544.63 L49.81,545.09 L49.95,545.54 L50.10,545.98 L50.24,546.42 L50.39,546.86 L50.54,547.29 L50.70,547.72 L50.86,548.14 L51.03,548.56 L51.19,548.97 L51.37,549.38 L51.54,549.78 L51.72,550.18 L51.91,550.58 L52.09,550.97 L52.29,551.36 L52.48,551.74 L52.68,552.12 L52.89,552.50 L53.10,552.87 L53.32,553.24 L53.54,553.61 L53.76,553.97 L53.99,554.33 L54.23,554.68 L54.47,555.03 L54.71,555.38 L54.97,555.73 L55.23,556.07 L55.49,556.40 L55.76,556.74 L56.04,557.07 L56.32,557.39 L56.61,557.72 L56.90,558.04 L57.21,558.36 L57.52,558.67 L57.83,558.98 L58.16,559.29 L58.49,559.59 L58.83,559.89 L59.17,560.19 L59.53,560.48 L59.89,560.77 L60.26,561.06 L60.64,561.35 L61.03,561.63 L61.43,561.91 L61.83,562.19 L62.25,562.46 L62.67,562.73 L63.11,563.00 L63.55,563.26 L64.01,563.52 L64.47,563.78 L64.95,564.04 L65.43,564.29 L65.93,564.54 L66.44,564.79 L66.96,565.03 L67.50,565.28 L68.04,565.52 L68.60,565.75 L69.17,565.99 L69.75,566.22 L70.35,566.45 L70.96,566.68 L71.58,566.90 L72.22,567.12 L72.88,567.34 L73.55,567.56 L74.23,567.77 L74.93,567.98 L75.64,568.19 L76.38,568.40 L77.12,568.61 L77.89,568.81 L78.67,569.01 L79.48,569.21 L80.30,569.41 L81.13,569.60 L81.99,569.79 L82.87,569.98 L83.77,570.17 L84.68,570.36 L85.62,570.54 L86.58,570.72 L87.57,570.90 L88.57,571.08 L89.60,571.26 L90.65,571.43 L91.73,571.60 L92.83,571.77 L93.95,571.94 L95.10,572.11 L96.28,572.27 L97.49,572.44 L98.72,572.60 L99.98,572.76 L101.27,572.92 L102.59,573.08 L103.94,573.24 L105.32,573.39 L106.73,573.55 L108.17,573.70 L109.65,573.85 L111.16,574.00 L112.71,574.16 L114.29,574.31 L115.91,574.46 L117.56,574.61 L119.25,574.75 L120.99,574.90 L122.76,575.05 L124.57,575.20 L126.42,575.34 L128.32,575.49 L130.25,575.64 L132.24,575.79 L134.27,575.93 L136.34,576.08 L138.46,576.23 L140.64,576.38 L142.86,576.52 L145.13,576.67 L147.45,576.82 L149.83,576.97 L152.26,577.12 L154.75,577.27 L157.29,577.42 L159.90,577.58 L162.56,577.73 L165.28,577.88 L168.07,578.04 L170.92,578.20 L173.83,578.35 L176.81,578.51" fill="none" stroke="#00ffff" stroke-width="3" stroke-linejoin="round"/>
</g>
<text transform="translate(38.10,591.95) scale(0.965,1)" text-anchor="end" class="tk">0</text>
<text transform="translate(38.10,547.52) scale(0.965,1)" text-anchor="end" class="tk">5</text>
<text transform="translate(38.10,503.10) scale(0.965,1)" text-anchor="end" class="tk">10</text>
<text transform="translate(38.10,458.67) scale(0.965,1)" text-anchor="end" class="tk">15</text>
<text transform="translate(38.10,414.25) scale(0.965,1)" text-anchor="end" class="tk">20</text>
<text transform="translate(43.70,605.60) scale(0.965,1)" text-anchor="middle" class="tk">0</text>
<text transform="translate(102.97,605.60) scale(0.965,1)" text-anchor="middle" class="tk">200</text>
<text transform="translate(162.23,605.60) scale(0.965,1)" text-anchor="middle" class="tk">400</text>
<text transform="translate(221.50,605.60) scale(0.965,1)" text-anchor="middle" class="tk">600</text>
<text x="48.58" y="422.85" class="pl" textLength="16.74" lengthAdjust="spacingAndGlyphs">(g)</text>
<rect x="69.30" y="415.90" width="126.40" height="48.90" fill="#fff" stroke="#262626" stroke-width="0.9"/>
<circle cx="93.90" cy="425.20" r="3.75" fill="#ff8000"/>
<text x="117.70" y="428.30" class="lg" textLength="59.4" lengthAdjust="spacingAndGlyphs"><tspan class="cap">Y</tspan>ang <tspan font-style="italic">et al.</tspan></text>
<rect x="90.80" y="437.10" width="6.2" height="6.2" fill="#ff0000"/>
<text x="117.70" y="443.30" class="lg" textLength="51.6" lengthAdjust="spacingAndGlyphs"><tspan class="cap">Y</tspan>en <tspan font-style="italic">et al.</tspan></text>
<path d="M73.40,455.50h41.2" stroke="#00ffff" stroke-width="3"/>
<text x="117.70" y="458.30" class="lg" textLength="72.3" lengthAdjust="spacingAndGlyphs"><tspan class="cap">O</tspan>ur model fit</text>
<text transform="translate(15.0,520.08) rotate(-90)" style="font-size:16px">λ</text>
<text transform="translate(15.0,510.95) rotate(-90)" style="font-size:16px">(</text>
<text transform="translate(15.0,506.02) rotate(-90)" style="font-size:15.4px;font-style:italic" textLength="21.85" lengthAdjust="spacingAndGlyphs">nm</text>
<text transform="translate(15.0,483.50) rotate(-90)" style="font-size:16px">)</text>
<text x="110.10" y="623.90" style="font-size:14.4px;font-style:italic">H</text>
<text x="123.85" y="623.90" style="font-size:16px">(</text>
<text x="127.76" y="623.90" style="font-size:15.4px;font-style:italic" textLength="22.49" lengthAdjust="spacingAndGlyphs">nm</text>
<text x="151.60" y="623.90" style="font-size:16px">)</text>
<rect x="270.4" y="410.6" width="177.80" height="177.70" fill="none" stroke="#262626" stroke-width="0.9"/>
<path d="M270.40,588.30v-2M270.40,410.60v2M314.85,588.30v-2M314.85,410.60v2M359.30,588.30v-2M359.30,410.60v2M403.75,588.30v-2M403.75,410.60v2M448.20,588.30v-2M448.20,410.60v2M270.40,588.30h2M448.20,588.30h-2M270.40,558.68h2M448.20,558.68h-2M270.40,529.07h2M448.20,529.07h-2M270.40,499.45h2M448.20,499.45h-2M270.40,469.83h2M448.20,469.83h-2M270.40,440.22h2M448.20,440.22h-2M270.40,410.60h2M448.20,410.60h-2" stroke="#262626" stroke-width="0.9" fill="none"/>
<g>
<circle cx="299.91" cy="450.46" r="3.75" fill="#ff8000"/>
<circle cx="315.52" cy="503.89" r="3.75" fill="#ff8000"/>
<circle cx="328.99" cy="531.73" r="3.75" fill="#ff8000"/>
<circle cx="343.96" cy="549.44" r="3.75" fill="#ff8000"/>
<circle cx="389.08" cy="579.12" r="3.75" fill="#ff8000"/>
<circle cx="418.77" cy="578.23" r="3.75" fill="#ff8000"/>
<path d="M297.11,431.59 L297.31,432.90 L297.51,434.21 L297.71,435.50 L297.91,436.79 L298.12,438.07 L298.32,439.34 L298.53,440.60 L298.73,441.85 L298.94,443.10 L299.15,444.33 L299.37,445.56 L299.58,446.78 L299.79,447.99 L300.01,449.19 L300.23,450.38 L300.45,451.57 L300.67,452.75 L300.90,453.92 L301.12,455.08 L301.35,456.23 L301.58,457.38 L301.81,458.52 L302.04,459.64 L302.27,460.77 L302.51,461.88 L302.74,462.99 L302.98,464.09 L303.22,465.18 L303.46,466.26 L303.71,467.34 L303.95,468.40 L304.20,469.47 L304.45,470.52 L304.70,471.57 L304.96,472.60 L305.21,473.64 L305.47,474.66 L305.73,475.68 L305.99,476.69 L306.25,477.69 L306.52,478.69 L306.78,479.67 L307.05,480.66 L307.32,481.63 L307.59,482.60 L307.87,483.56 L308.14,484.51 L308.42,485.46 L308.70,486.40 L308.99,487.34 L309.27,488.26 L309.56,489.18 L309.85,490.10 L310.14,491.01 L310.43,491.91 L310.73,492.80 L311.03,493.69 L311.33,494.58 L311.63,495.45 L311.93,496.32 L312.24,497.19 L312.55,498.04 L312.86,498.89 L313.17,499.74 L313.49,500.58 L313.81,501.41 L314.13,502.24 L314.45,503.06 L314.77,503.88 L315.10,504.69 L315.43,505.50 L315.76,506.29 L316.10,507.09 L316.44,507.88 L316.78,508.66 L317.12,509.43 L317.46,510.21 L317.81,510.97 L318.16,511.73 L318.51,512.49 L318.87,513.24 L319.22,513.98 L319.59,514.72 L319.95,515.46 L320.31,516.19 L320.68,516.91 L321.05,517.63 L321.43,518.34 L321.80,519.05 L322.18,519.76 L322.57,520.46 L322.95,521.15 L323.34,521.84 L323.73,522.53 L324.12,523.21 L324.52,523.89 L324.92,524.56 L325.32,525.23 L325.73,525.89 L326.14,526.55 L326.55,527.20 L326.96,527.85 L327.38,528.50 L327.80,529.14 L328.22,529.78 L328.65,530.41 L329.08,531.04 L329.51,531.66 L329.95,532.28 L330.39,532.90 L330.83,533.51 L331.28,534.12 L331.73,534.73 L332.18,535.33 L332.64,535.93 L333.09,536.52 L333.56,537.11 L334.02,537.70 L334.49,538.28 L334.97,538.86 L335.44,539.44 L335.92,540.01 L336.41,540.58 L336.89,541.15 L337.38,541.71 L337.88,542.27 L338.38,542.83 L338.88,543.38 L339.38,543.93 L339.89,544.48 L340.41,545.02 L340.92,545.56 L341.44,546.10 L341.97,546.63 L342.50,547.16 L343.03,547.69 L343.56,548.21 L344.10,548.73 L344.65,549.25 L345.20,549.76 L345.75,550.27 L346.31,550.78 L346.87,551.28 L347.43,551.78 L348.00,552.28 L348.57,552.77 L349.15,553.26 L349.73,553.75 L350.32,554.23 L350.90,554.71 L351.50,555.19 L352.10,555.66 L352.70,556.13 L353.31,556.60 L353.92,557.06 L354.54,557.52 L355.16,557.98 L355.78,558.43 L356.41,558.88 L357.05,559.33 L357.69,559.77 L358.33,560.21 L358.98,560.64 L359.64,561.08 L360.29,561.51 L360.96,561.93 L361.63,562.35 L362.30,562.77 L362.98,563.19 L363.66,563.60 L364.35,564.01 L365.04,564.41 L365.74,564.81 L366.45,565.21 L367.15,565.61 L367.87,566.00 L368.59,566.39 L369.31,566.77 L370.04,567.15 L370.78,567.53 L371.52,567.90 L372.27,568.27 L373.02,568.64 L373.77,569.00 L374.54,569.36 L375.31,569.71 L376.08,570.07 L376.86,570.42 L377.65,570.76 L378.44,571.10 L379.24,571.44 L380.04,571.78 L380.85,572.11 L381.66,572.43 L382.48,572.76 L383.31,573.08 L384.15,573.39 L384.98,573.71 L385.83,574.02 L386.68,574.32 L387.54,574.63 L388.41,574.92 L389.28,575.22 L390.15,575.51 L391.04,575.80 L391.93,576.08 L392.83,576.36 L393.73,576.64 L394.64,576.91 L395.56,577.18 L396.48,577.45 L397.41,577.71 L398.35,577.97 L399.29,578.22 L400.24,578.48 L401.20,578.72 L402.17,578.97 L403.14,579.21 L404.12,579.44 L405.11,579.68 L406.10,579.91 L407.10,580.13 L408.11,580.35 L409.13,580.57 L410.15,580.79 L411.18,581.00 L412.22,581.20 L413.27,581.41 L414.32,581.61 L415.39,581.80 L416.46,581.99 L417.54,582.18 L418.62,582.37 L419.72,582.55 L420.82,582.72 L421.93,582.90 L423.05,583.07 L424.17,583.23 L425.31,583.39" fill="none" stroke="#00ffff" stroke-width="3" stroke-linejoin="round"/>
</g>
<text transform="translate(264.80,591.95) scale(0.965,1)" text-anchor="end" class="tk">0.5</text>
<text transform="translate(264.80,562.33) scale(0.965,1)" text-anchor="end" class="tk">1</text>
<text transform="translate(264.80,532.72) scale(0.965,1)" text-anchor="end" class="tk">1.5</text>
<text transform="translate(264.80,503.10) scale(0.965,1)" text-anchor="end" class="tk">2</text>
<text transform="translate(264.80,473.48) scale(0.965,1)" text-anchor="end" class="tk">2.5</text>
<text transform="translate(264.80,443.87) scale(0.965,1)" text-anchor="end" class="tk">3</text>
<text transform="translate(264.80,414.25) scale(0.965,1)" text-anchor="end" class="tk">3.5</text>
<text transform="translate(270.40,605.60) scale(0.965,1)" text-anchor="middle" class="tk">0</text>
<text transform="translate(314.85,605.60) scale(0.965,1)" text-anchor="middle" class="tk">1</text>
<text transform="translate(359.30,605.60) scale(0.965,1)" text-anchor="middle" class="tk">2</text>
<text transform="translate(403.75,605.60) scale(0.965,1)" text-anchor="middle" class="tk">3</text>
<text transform="translate(448.20,605.60) scale(0.965,1)" text-anchor="middle" class="tk">4</text>
<text x="275.37" y="422.85" class="pl" textLength="16.95" lengthAdjust="spacingAndGlyphs">(h)</text>
<rect x="319.10" y="415.90" width="126.40" height="34.30" fill="#fff" stroke="#262626" stroke-width="0.9"/>
<circle cx="343.70" cy="425.20" r="3.75" fill="#ff8000"/>
<text x="367.50" y="428.30" class="lg" textLength="62.2" lengthAdjust="spacingAndGlyphs"><tspan class="cap">W</tspan>ang <tspan font-style="italic">et al.</tspan></text>
<path d="M323.20,440.50h41.2" stroke="#00ffff" stroke-width="3"/>
<text x="367.50" y="443.30" class="lg" textLength="72.3" lengthAdjust="spacingAndGlyphs"><tspan class="cap">O</tspan>ur model fit</text>
<text x="336.80" y="623.90" style="font-size:14.4px;font-style:italic">H</text>
<text x="350.55" y="623.90" style="font-size:16px">(</text>
<text x="354.46" y="623.90" style="font-size:15.4px;font-style:italic" textLength="22.49" lengthAdjust="spacingAndGlyphs">nm</text>
<text x="378.30" y="623.90" style="font-size:16px">)</text>
<rect x="497.2" y="410.6" width="177.70" height="177.70" fill="none" stroke="#262626" stroke-width="0.9"/>
<path d="M497.20,588.30v-2M497.20,410.60v2M541.62,588.30v-2M541.62,410.60v2M586.05,588.30v-2M586.05,410.60v2M630.47,588.30v-2M630.47,410.60v2M674.90,588.30v-2M674.90,410.60v2M497.20,588.30h2M674.90,588.30h-2M497.20,558.68h2M674.90,558.68h-2M497.20,529.07h2M674.90,529.07h-2M497.20,499.45h2M674.90,499.45h-2M497.20,469.83h2M674.90,469.83h-2M497.20,440.22h2M674.90,440.22h-2M497.20,410.60h2M674.90,410.60h-2" stroke="#262626" stroke-width="0.9" fill="none"/>
<g>
<circle cx="526.88" cy="445.25" r="3.75" fill="#ff8000"/>
<circle cx="542.07" cy="502.41" r="3.75" fill="#ff8000"/>
<circle cx="555.97" cy="521.66" r="3.75" fill="#ff8000"/>
<circle cx="571.35" cy="529.19" r="3.75" fill="#ff8000"/>
<circle cx="616.04" cy="564.93" r="3.75" fill="#ff8000"/>
<circle cx="645.98" cy="564.10" r="3.75" fill="#ff8000"/>
<path d="M524.08,429.77 L524.28,431.18 L524.48,432.58 L524.68,433.97 L524.88,435.34 L525.08,436.71 L525.29,438.06 L525.50,439.40 L525.71,440.74 L525.92,442.06 L526.13,443.37 L526.34,444.67 L526.56,445.96 L526.77,447.23 L526.99,448.50 L527.21,449.76 L527.43,451.01 L527.66,452.24 L527.88,453.47 L528.11,454.69 L528.34,455.89 L528.57,457.09 L528.80,458.27 L529.03,459.45 L529.27,460.61 L529.50,461.77 L529.74,462.92 L529.98,464.05 L530.22,465.18 L530.47,466.30 L530.71,467.40 L530.96,468.50 L531.21,469.59 L531.46,470.67 L531.71,471.73 L531.97,472.79 L532.22,473.84 L532.48,474.89 L532.74,475.92 L533.01,476.94 L533.27,477.95 L533.54,478.96 L533.81,479.95 L534.08,480.94 L534.35,481.92 L534.62,482.88 L534.90,483.84 L535.18,484.79 L535.46,485.74 L535.74,486.67 L536.02,487.60 L536.31,488.51 L536.60,489.42 L536.89,490.32 L537.18,491.21 L537.48,492.09 L537.78,492.97 L538.07,493.84 L538.38,494.69 L538.68,495.54 L538.99,496.39 L539.30,497.22 L539.61,498.05 L539.92,498.86 L540.23,499.67 L540.55,500.48 L540.87,501.27 L541.19,502.06 L541.52,502.84 L541.85,503.61 L542.18,504.38 L542.51,505.13 L542.84,505.88 L543.18,506.63 L543.52,507.36 L543.86,508.09 L544.21,508.81 L544.55,509.52 L544.90,510.23 L545.25,510.93 L545.61,511.62 L545.97,512.31 L546.33,512.98 L546.69,513.66 L547.05,514.32 L547.42,514.98 L547.79,515.63 L548.17,516.28 L548.54,516.91 L548.92,517.55 L549.30,518.17 L549.69,518.79 L550.08,519.40 L550.47,520.01 L550.86,520.61 L551.26,521.20 L551.65,521.79 L552.06,522.37 L552.46,522.95 L552.87,523.52 L553.28,524.08 L553.69,524.64 L554.11,525.19 L554.53,525.74 L554.95,526.28 L555.38,526.82 L555.81,527.35 L556.24,527.87 L556.68,528.39 L557.12,528.90 L557.56,529.41 L558.01,529.91 L558.45,530.41 L558.91,530.90 L559.36,531.39 L559.82,531.87 L560.28,532.35 L560.75,532.82 L561.22,533.29 L561.69,533.75 L562.17,534.20 L562.65,534.66 L563.13,535.10 L563.62,535.55 L564.11,535.99 L564.60,536.42 L565.10,536.85 L565.60,537.27 L566.10,537.69 L566.61,538.11 L567.13,538.52 L567.64,538.93 L568.16,539.33 L568.69,539.73 L569.21,540.12 L569.75,540.52 L570.28,540.90 L570.82,541.28 L571.36,541.66 L571.91,542.04 L572.46,542.41 L573.02,542.78 L573.58,543.14 L574.14,543.50 L574.71,543.86 L575.28,544.21 L575.86,544.56 L576.44,544.90 L577.02,545.24 L577.61,545.58 L578.21,545.92 L578.80,546.25 L579.41,546.58 L580.01,546.90 L580.63,547.23 L581.24,547.55 L581.86,547.86 L582.49,548.18 L583.12,548.49 L583.75,548.79 L584.39,549.10 L585.03,549.40 L585.68,549.70 L586.33,549.99 L586.99,550.29 L587.66,550.58 L588.32,550.87 L589.00,551.15 L589.67,551.44 L590.36,551.72 L591.04,551.99 L591.74,552.27 L592.43,552.54 L593.14,552.82 L593.85,553.09 L594.56,553.35 L595.28,553.62 L596.00,553.88 L596.73,554.14 L597.47,554.40 L598.21,554.66 L598.95,554.91 L599.70,555.17 L600.46,555.42 L601.22,555.67 L601.99,555.92 L602.76,556.16 L603.54,556.41 L604.33,556.65 L605.12,556.90 L605.92,557.14 L606.72,557.38 L607.53,557.61 L608.34,557.85 L609.16,558.09 L609.99,558.32 L610.82,558.56 L611.66,558.79 L612.50,559.02 L613.36,559.25 L614.21,559.48 L615.08,559.71 L615.95,559.94 L616.82,560.16 L617.71,560.39 L618.60,560.61 L619.49,560.84 L620.40,561.06 L621.30,561.29 L622.22,561.51 L623.14,561.73 L624.07,561.96 L625.01,562.18 L625.95,562.40 L626.90,562.62 L627.86,562.84 L628.83,563.07 L629.80,563.29 L630.78,563.51 L631.76,563.73 L632.76,563.95 L633.76,564.17 L634.77,564.39 L635.78,564.61 L636.80,564.84 L637.83,565.06 L638.87,565.28 L639.92,565.50 L640.97,565.73 L642.03,565.95 L643.10,566.18 L644.18,566.40 L645.26,566.63 L646.36,566.85 L647.46,567.08 L648.57,567.31 L649.69,567.54 L650.81,567.77 L651.94,568.00 L653.09,568.23" fill="none" stroke="#00ffff" stroke-width="3" stroke-linejoin="round"/>
</g>
<text transform="translate(491.60,591.95) scale(0.965,1)" text-anchor="end" class="tk">0</text>
<text transform="translate(491.60,562.33) scale(0.965,1)" text-anchor="end" class="tk">1</text>
<text transform="translate(491.60,532.72) scale(0.965,1)" text-anchor="end" class="tk">2</text>
<text transform="translate(491.60,503.10) scale(0.965,1)" text-anchor="end" class="tk">3</text>
<text transform="translate(491.60,473.48) scale(0.965,1)" text-anchor="end" class="tk">4</text>
<text transform="translate(491.60,443.87) scale(0.965,1)" text-anchor="end" class="tk">5</text>
<text transform="translate(491.60,414.25) scale(0.965,1)" text-anchor="end" class="tk">6</text>
<text transform="translate(497.20,605.60) scale(0.965,1)" text-anchor="middle" class="tk">0</text>
<text transform="translate(541.62,605.60) scale(0.965,1)" text-anchor="middle" class="tk">1</text>
<text transform="translate(586.05,605.60) scale(0.965,1)" text-anchor="middle" class="tk">2</text>
<text transform="translate(630.47,605.60) scale(0.965,1)" text-anchor="middle" class="tk">3</text>
<text transform="translate(674.90,605.60) scale(0.965,1)" text-anchor="middle" class="tk">4</text>
<text x="502.61" y="422.85" class="pl" textLength="12.67" lengthAdjust="spacingAndGlyphs">(i)</text>
<rect x="545.80" y="415.90" width="126.40" height="34.30" fill="#fff" stroke="#262626" stroke-width="0.9"/>
<circle cx="570.40" cy="425.20" r="3.75" fill="#ff8000"/>
<text x="594.20" y="428.30" class="lg" textLength="62.2" lengthAdjust="spacingAndGlyphs"><tspan class="cap">W</tspan>ang <tspan font-style="italic">et al.</tspan></text>
<path d="M549.90,440.50h41.2" stroke="#00ffff" stroke-width="3"/>
<text x="594.20" y="443.30" class="lg" textLength="72.3" lengthAdjust="spacingAndGlyphs"><tspan class="cap">O</tspan>ur model fit</text>
<text x="563.55" y="623.90" style="font-size:14.4px;font-style:italic">H</text>
<text x="577.30" y="623.90" style="font-size:16px">(</text>
<text x="581.21" y="623.90" style="font-size:15.4px;font-style:italic" textLength="22.49" lengthAdjust="spacingAndGlyphs">nm</text>
<text x="605.05" y="623.90" style="font-size:16px">)</text>
</g>
</svg>
</body></html>
